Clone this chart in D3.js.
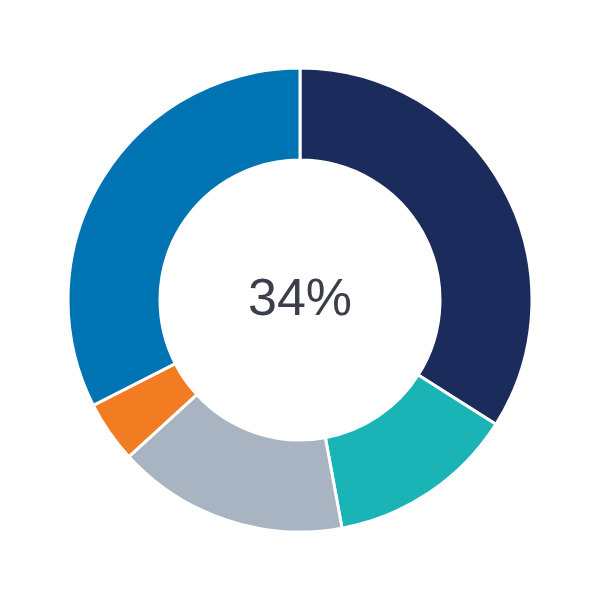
<!DOCTYPE html>
<html>
<head>
<meta charset="utf-8">
<script src="https://cdn.jsdelivr.net/npm/d3@7"></script>
<style>
  body { margin: 0; background: #fff; }
</style>
</head>
<body>
<svg id="chart"></svg>
<script>
// slice values, clockwise from 12 o'clock
const categories = ['A', 'B', 'C', 'D', 'E']
const values = [34, 13.1, 16.1, 4.3, 32.5]
const colors = ['#1b2b5c', '#1bb4b6', '#a9b4c2', '#f27c21', '#0073b2']
const centerLabel = '34%'

const width = 600
const height = 600
const outerRadius = 232
const innerRadius = 140

const svg = d3.select('#chart')
  .attr('width', width)
  .attr('height', height)

const g = svg.append('g')
  .attr('transform', `translate(${width / 2},${height / 2})`)

const color = d3.scaleOrdinal().domain(categories).range(colors)

const pie = d3.pie().sort(null).value(d => d.value)
const arc = d3.arc().innerRadius(innerRadius).outerRadius(outerRadius)

const data = categories.map((c, i) => ({ name: c, value: values[i] }))

// draw slices
g.selectAll('path').data(pie(data)).enter().append('path')
  .attr('d', arc)
  .attr('fill', d => color(d.data.name))
  .attr('stroke', '#fff')
  .attr('stroke-width', 3)

// draw center label
g.append('text')
  .attr('x', 0)
  .attr('y', -3)
  .attr('dy', '0.35em')
  .attr('text-anchor', 'middle')
  .attr('font-family', 'Liberation Sans, Arial, sans-serif')
  .attr('font-size', 52)
  .attr('fill', '#3b3f49')
  .text(centerLabel)
</script>
</body>
</html>
